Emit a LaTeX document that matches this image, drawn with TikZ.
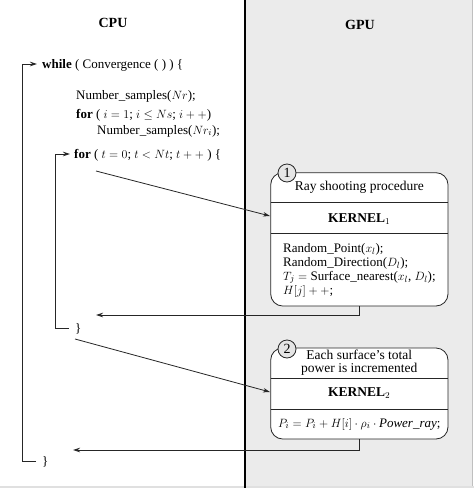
\documentclass[tikz,border=0pt]{standalone}
\usepackage{fontspec}
\usetikzlibrary{arrows.meta}
\setmainfont{Liberation Serif}
\begin{document}
\begin{tikzpicture}[x=1pt,y=-1pt,
  code/.style={anchor=base west,inner sep=0pt,font=\fontsize{13}{15}\selectfont},
  ttl/.style={font=\fontsize{14}{16}\selectfont\bfseries},
  conn/.style={draw=black!85,line width=0.8pt},
  arr/.style={conn,-{Stealth[length=7pt,width=4.5pt]}},
  kbox/.style={draw=black!85,line width=0.8pt,fill=white,rounded corners=12pt},
  numc/.style={circle,draw=black!85,line width=0.8pt,fill=black!10,minimum size=18pt,inner sep=0pt,font=\fontsize{14}{15}\selectfont},
  btxt/.style={inner sep=0pt,font=\fontsize{13.5}{14}\selectfont,align=center},
]
\useasboundingbox (0,0) rectangle (474,488);
\fill[white] (0,0) rectangle (474,488);
\fill[black!8] (245,0) rectangle (472,486);
\draw[black!25,line width=0.8pt] (472,0) -- (472,486);
\draw[black!12,line width=2pt] (0,487) -- (474,487);
\draw[line width=1.1pt] (245,0) -- (245,488);

\node[ttl] (cpu) at (113,23) {CPU};
\node[ttl] (gpu) at (360,25) {GPU};

% code
\node[code] (while) at (42,68) {\textbf{while} ( Convergence ( ) ) \{};
\node[code] (ns) at (76,99) {Number\_samples($Nr$);};
\node[code] (fori) at (76,118) {\textbf{for} ( $i=1$; $i\le Ns$; $i++$)};
\node[code] (nsi) at (97,134) {Number\_samples($Nr_i$);};
\node[code] (fort) at (74,158) {\textbf{for} ( $t=0$; $t<Nt$; $t++$ ) \{};
\node[code] (cb1) at (75,332) {\}};
\node[code] (cb2) at (42,465) {\}};

% loops
\coordinate (o0) at (36,461);
\coordinate (o1) at (22,461);
\coordinate (o2) at (22,64);
\coordinate (o3) at (37,64);
\coordinate (i0) at (69,328);
\coordinate (i1) at (55,328);
\coordinate (i2) at (55,154);
\coordinate (i3) at (70,154);
\draw[arr] (o0) -- (o1) -- (o2) -- (o3);
\draw[arr] (i0) -- (i1) -- (i2) -- (i3);

% box 1
\draw[kbox] (270.7,172.7) rectangle (448,306);
\draw[conn] (270.7,202.7) -- (448,202.7);
\draw[conn] (270.7,233) -- (448,233);
\node[btxt] (t1) at (359.3,187) {Ray shooting procedure};
\node[btxt] (k1) at (359.3,219) {\textbf{KERNEL}$_1$};
\node[code] (b1l1) at (283,252) {Random\_Point($x_l$);};
\node[code] (b1l2) at (283,266) {Random\_Direction($D_l$);};
\node[code] (b1l3) at (283,280) {$T_j=$ Surface\_nearest($x_l$, $D_l$);};
\node[code] (b1l4) at (283,294) {$H[j]++$;};
\node[numc] (n1) at (287,173) {1};

% box 2
\draw[kbox] (270.7,348) rectangle (448,439);
\draw[conn] (270.7,378) -- (448,378);
\draw[conn] (270.7,409) -- (448,409);
\node[btxt] (t2) at (359.3,363) {Each surface's total\\[-1pt]power is incremented};
\node[btxt] (k2) at (359.3,393) {\textbf{KERNEL}$_2$};
\node[code,anchor=center] (body2) at (359.3,424) {$P_i=P_i+H[i]\cdot\rho_i\cdot{}$\textit{Power\_ray};};
\node[numc] (n2) at (287,349) {2};

% connectors
\coordinate (s1) at (96,171);
\coordinate (e1) at (270,216);
\draw[arr] (s1) -- (e1);
\coordinate (r1a) at (359,306);
\coordinate (r1b) at (359,315);
\coordinate (r1c) at (96,315);
\draw[arr] (r1a) -- (r1b) -- (r1c);

\coordinate (s2) at (75,339);
\coordinate (e2) at (270,392);
\draw[arr] (s2) -- (e2);
\coordinate (r2a) at (359,439);
\coordinate (r2b) at (359,450);
\coordinate (r2c) at (73,450);
\draw[arr] (r2a) -- (r2b) -- (r2c);
\end{tikzpicture}
\end{document}
